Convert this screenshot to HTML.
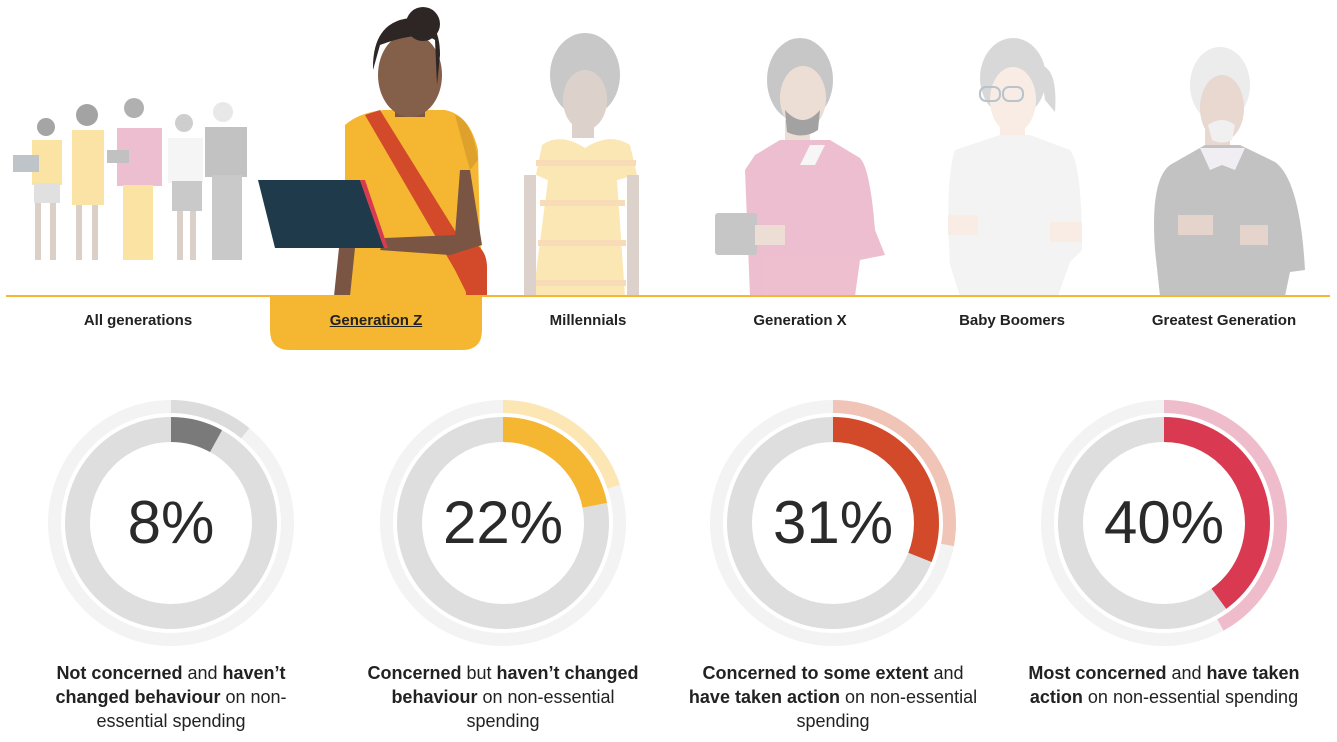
<!DOCTYPE html>
<html><head><meta charset="utf-8"><style>
body{margin:0;background:#fff;width:1337px;height:742px;overflow:hidden;font-family:"Liberation Sans",sans-serif;}
.tab{position:absolute;top:312px;font-weight:bold;font-size:15px;color:#222;text-align:center;width:212px;}
.lbl{position:absolute;top:661px;width:330px;text-align:center;font-size:18px;line-height:24px;color:#222;white-space:nowrap;}
.pct{position:absolute;top:488px;width:200px;text-align:center;font-size:60px;color:#2a2a2a;}
</style></head><body>
<svg width="1337" height="742" style="position:absolute;left:0;top:0">
<g opacity="0.9">
 <g fill="#d8cbc2"><rect x="35" y="190" width="6" height="70"/><rect x="50" y="190" width="6" height="70"/><rect x="76" y="195" width="6" height="65"/><rect x="92" y="195" width="6" height="65"/><rect x="177" y="195" width="6" height="65"/><rect x="190" y="195" width="6" height="65"/></g>
 <circle cx="46" cy="127" r="9" fill="#9c9c9c"/><rect x="32" y="140" width="30" height="45" fill="#fbe09a"/><rect x="34" y="183" width="26" height="20" fill="#ddd"/>
 <rect x="13" y="155" width="26" height="17" fill="#b8bec2"/>
 <circle cx="87" cy="115" r="11" fill="#9a9a9a"/><rect x="72" y="130" width="32" height="75" fill="#fbdf9c"/>
 <circle cx="134" cy="108" r="10" fill="#a8a8a8"/><rect x="117" y="128" width="45" height="58" fill="#ecb8ca"/><rect x="123" y="185" width="30" height="75" fill="#fbe09a"/><rect x="107" y="150" width="22" height="13" fill="#bbb"/>
 <circle cx="184" cy="123" r="9" fill="#c9c9c9"/><rect x="168" y="138" width="35" height="45" fill="#f4f4f4"/><rect x="172" y="181" width="30" height="30" fill="#c4c4c4"/>
 <circle cx="223" cy="112" r="10" fill="#e6e6e6"/><rect x="205" y="127" width="42" height="50" fill="#bcbcbc"/><rect x="212" y="175" width="30" height="85" fill="#c4c4c4"/>
</g>
<path d="M345 125 Q360 112 385 110 L445 110 Q470 115 478 150 L480 240 L487 296 L350 296 L345 230 Z" fill="#f5b731"/>
<path d="M455 115 Q472 120 478 160 L470 170 Z" fill="#dea12b"/>
<rect x="395" y="92" width="30" height="25" fill="#7a5543"/>
<ellipse cx="410" cy="75" rx="32" ry="42" fill="#845f4a"/>
<path d="M373 70 Q372 22 410 18 Q440 15 440 55 L437 85 L435 40 Q420 30 380 45 Z" fill="#2e2624"/>
<circle cx="423" cy="24" r="17" fill="#2e2624"/>
<path d="M365 115 L380 110 L470 255 L485 296 L468 296 L455 270 Z" fill="#d24a2a"/>
<path d="M465 240 Q488 245 487 270 L487 296 L466 296 Z" fill="#d24a2a"/>
<path d="M345 190 L334 296 L350 296 L360 200 Z" fill="#7a5543"/>
<path d="M470 170 L482 245 L450 255 L380 250 L385 238 L455 235 L460 170 Z" fill="#7a5543"/>
<polygon points="258,180 360,180 384,248 275,248" fill="#1f3a4a"/>
<polygon points="360,180 365,180 388,248 384,248" fill="#d93a52"/>
<g opacity="0.85">
<rect x="572" y="118" width="22" height="20" fill="#d8cbc2"/>
<ellipse cx="585" cy="75" rx="35" ry="42" fill="#bfbfbf"/>
<ellipse cx="585" cy="100" rx="22" ry="30" fill="#d8cbc2"/>
<path d="M542 145 Q560 132 585 148 Q610 132 630 145 L637 175 L617 180 L625 296 L533 296 L548 180 L536 175 Z" fill="#fbe3a8"/>
<g fill="#f7d6ac"><rect x="536" y="160" width="100" height="6"/><rect x="540" y="200" width="85" height="6"/><rect x="538" y="240" width="88" height="6"/><rect x="534" y="280" width="92" height="6"/></g>
<rect x="524" y="175" width="12" height="121" fill="#d8cbc2"/><rect x="627" y="175" width="12" height="121" fill="#d8cbc2"/>
</g>
<g opacity="0.9">
<rect x="785" y="120" width="25" height="25" fill="#eadbd1"/>
<ellipse cx="800" cy="80" rx="33" ry="42" fill="#c2c2c2"/>
<ellipse cx="803" cy="98" rx="23" ry="32" fill="#eadbd1"/>
<path d="M785 110 Q803 130 820 110 L818 130 Q803 140 787 132 Z" fill="#999"/>
<path d="M755 155 L780 140 L830 140 L860 158 Q870 168 875 230 L885 255 L860 260 L855 296 L750 296 L745 170 Z" fill="#ecb8ca"/>
<polygon points="810,145 825,145 815,165 800,165" fill="#f6f6f6"/>
<rect x="715" y="213" width="42" height="42" rx="3" fill="#c0c0c0"/>
<rect x="755" y="225" width="30" height="20" fill="#eadbd1"/>
</g>
<g>
<rect x="1000" y="120" width="25" height="25" fill="#f9ece4"/>
<ellipse cx="1013" cy="78" rx="33" ry="40" fill="#d8d8d8"/>
<ellipse cx="1013" cy="100" rx="23" ry="33" fill="#f9ece4"/>
<path d="M1040 65 Q1058 68 1055 112 L1045 100 Z" fill="#d8d8d8"/>
<rect x="980" y="87" width="20" height="14" rx="6" fill="none" stroke="#b9c3cb" stroke-width="2"/>
<rect x="1003" y="87" width="20" height="14" rx="6" fill="none" stroke="#b9c3cb" stroke-width="2"/>
<path d="M955 150 L1000 135 L1030 135 L1070 150 Q1082 165 1082 250 L1070 262 L1058 296 L960 296 L950 265 Q945 180 955 150 Z" fill="#f3f3f3"/>
<rect x="948" y="215" width="30" height="20" fill="#f9ece4"/><rect x="1050" y="222" width="32" height="20" fill="#f9ece4"/>
</g>
<g>
<rect x="1205" y="130" width="25" height="25" fill="#e8d8cf"/>
<ellipse cx="1220" cy="85" rx="30" ry="38" fill="#ececec"/>
<ellipse cx="1222" cy="108" rx="22" ry="33" fill="#e8d8cf"/>
<path d="M1208 125 Q1222 115 1235 125 L1232 140 Q1222 145 1212 140 Z" fill="#f0f0f0"/>
<path d="M1170 165 L1205 145 L1240 145 L1275 162 Q1300 180 1305 270 L1290 272 L1285 296 L1160 296 L1155 250 Q1150 180 1170 165 Z" fill="#c2c2c2"/>
<polygon points="1200,148 1245,148 1235,170 1222,165 1210,170" fill="#f0eef2"/>
<rect x="1178" y="215" width="35" height="20" fill="#e4d4cb"/><rect x="1240" y="225" width="28" height="20" fill="#e4d4cb"/>
</g>
<rect x="6" y="295" width="1324" height="2" fill="#f5b731"/>
<path d="M270 296 H482 V330 Q482 350 462 350 H290 Q270 350 270 330 Z" fill="#f5b731"/>
<g fill="none">
 <g transform="translate(171,523) rotate(-90)">
  <circle r="116.5" stroke="#f3f3f3" stroke-width="13"/><circle r="116.5" stroke="#dcdcdc" stroke-width="13" stroke-dasharray="80.5 800"/>
  <circle r="93.5" stroke="#dedede" stroke-width="25"/><circle r="93.5" stroke="#7a7a7a" stroke-width="25" stroke-dasharray="47 800"/>
 </g>
 <g transform="translate(503,523) rotate(-90)">
  <circle r="116.5" stroke="#f3f3f3" stroke-width="13"/><circle r="116.5" stroke="#fbe6b4" stroke-width="13" stroke-dasharray="146 800"/>
  <circle r="93.5" stroke="#dedede" stroke-width="25"/><circle r="93.5" stroke="#f5b731" stroke-width="25" stroke-dasharray="129 800"/>
 </g>
 <g transform="translate(833,523) rotate(-90)">
  <circle r="116.5" stroke="#f3f3f3" stroke-width="13"/><circle r="116.5" stroke="#f0c4b6" stroke-width="13" stroke-dasharray="205 800"/>
  <circle r="93.5" stroke="#dedede" stroke-width="25"/><circle r="93.5" stroke="#d24a2a" stroke-width="25" stroke-dasharray="182 800"/>
 </g>
 <g transform="translate(1164,523) rotate(-90)">
  <circle r="116.5" stroke="#f3f3f3" stroke-width="13"/><circle r="116.5" stroke="#efbccb" stroke-width="13" stroke-dasharray="307 800"/>
  <circle r="93.5" stroke="#dedede" stroke-width="25"/><circle r="93.5" stroke="#d93a52" stroke-width="25" stroke-dasharray="235 800"/>
 </g>
</g>
</svg>
<div class="tab" style="left:32px">All generations</div>
<div class="tab" style="left:270px;text-decoration:underline">Generation Z</div>
<div class="tab" style="left:482px">Millennials</div>
<div class="tab" style="left:694px">Generation X</div>
<div class="tab" style="left:906px">Baby Boomers</div>
<div class="tab" style="left:1118px">Greatest Generation</div>
<div class="pct" style="left:71px">8%</div>
<div class="pct" style="left:403px">22%</div>
<div class="pct" style="left:733px">31%</div>
<div class="pct" style="left:1064px">40%</div>
<div class="lbl" style="left:6px"><b>Not concerned</b> and <b>haven’t</b><br><b>changed behaviour</b> on non-<br>essential spending</div>
<div class="lbl" style="left:338px"><b>Concerned</b> but <b>haven’t changed</b><br><b>behaviour</b> on non-essential<br>spending</div>
<div class="lbl" style="left:668px"><b>Concerned to some extent</b> and<br><b>have taken action</b> on non-essential<br>spending</div>
<div class="lbl" style="left:999px"><b>Most concerned</b> and <b>have taken</b><br><b>action</b> on non-essential spending</div>
</body></html>
